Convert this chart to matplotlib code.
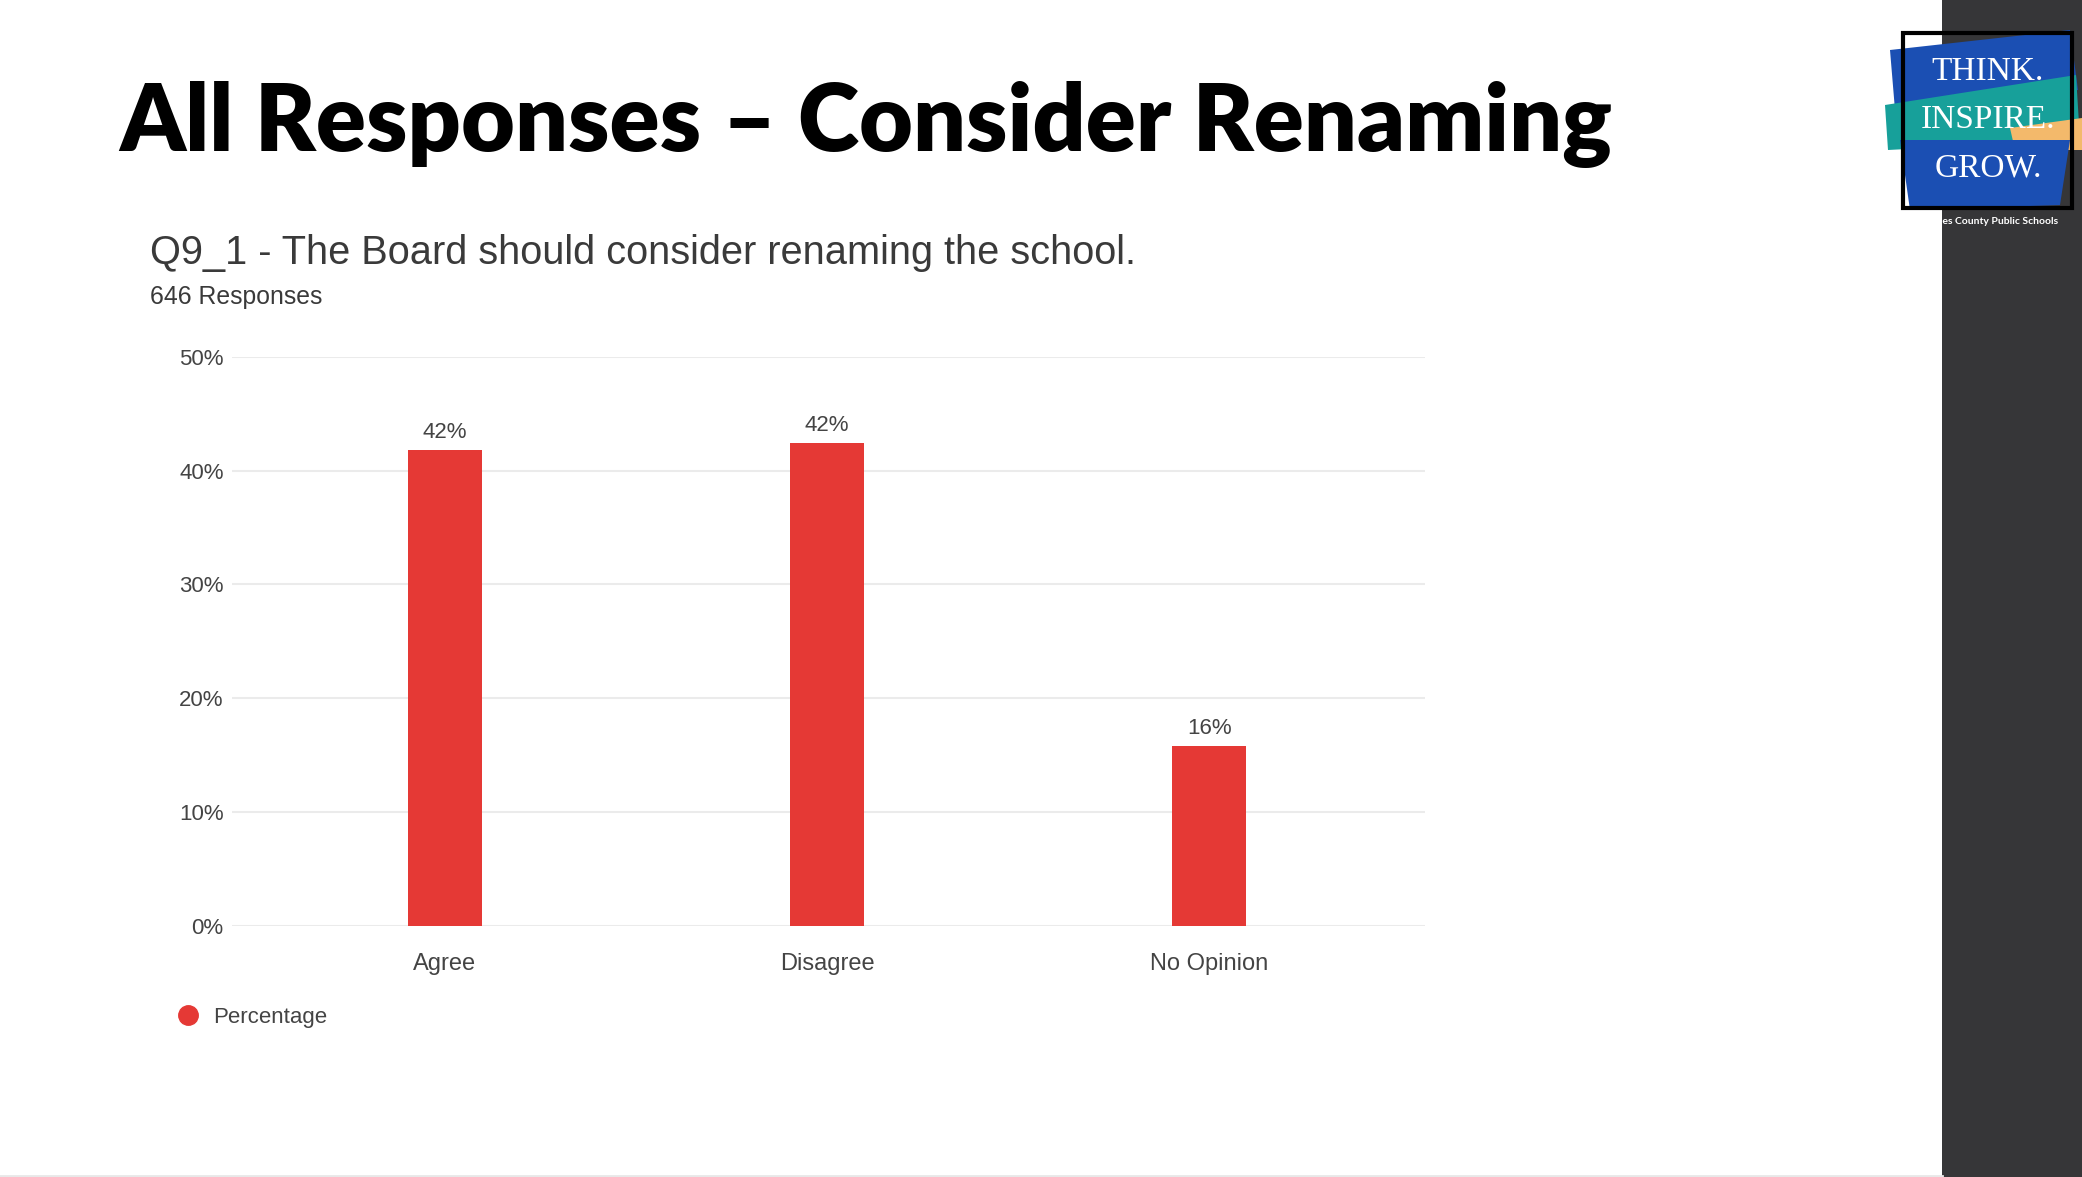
import matplotlib.pyplot as plt
from matplotlib.patches import Rectangle, Polygon
from matplotlib.lines import Line2D

# Datos de la encuesta
categorias = ['Agree', 'Disagree', 'No Opinion']
porcentajes = [41.8, 42.4, 15.8]
etiquetas = ['42%', '42%', '16%']
ticks_y = [0, 10, 20, 30, 40, 50]

titulo = 'All Responses – Consider Renaming'
pregunta = 'Q9_1 - The Board should consider renaming the school.'
respuestas = '646 Responses'

rojo = '#e53935'
gris_texto = '#444444'

fig = plt.figure(figsize=(20.82, 11.77), dpi=100)
fig.patch.set_facecolor('white')

# Panel oscuro a la derecha
fig.add_artist(Rectangle((1942 / 2082, 0), 1 - 1942 / 2082, 1, transform=fig.transFigure,
                         facecolor='#363638', edgecolor='none', zorder=0))
fig.add_artist(Line2D([0, 1942 / 2082], [0.001, 0.001], transform=fig.transFigure,
                      color='#e8e8e8', lw=2))

# Logo (aproximado)
def px(x, y):
    return (x / 2082, 1 - y / 1177)

fig.add_artist(Polygon([px(1890, 50), px(2070, 30), px(2078, 90), px(1895, 110)],
                       closed=True, transform=fig.transFigure, facecolor='#1b4fb3', edgecolor='none', zorder=2))
fig.add_artist(Polygon([px(1885, 105), px(2076, 75), px(2080, 140), px(1888, 150)],
                       closed=True, transform=fig.transFigure, facecolor='#17a09a', edgecolor='none', zorder=3))
fig.add_artist(Polygon([px(2010, 128), px(2082, 118), px(2082, 150), px(2015, 150)],
                       closed=True, transform=fig.transFigure, facecolor='#f3b96b', edgecolor='none', zorder=3))
fig.add_artist(Polygon([px(1900, 140), px(2070, 140), px(2060, 205), px(1910, 210)],
                       closed=True, transform=fig.transFigure, facecolor='#1b4fb3', edgecolor='none', zorder=4))
fig.add_artist(Rectangle(px(1903, 208), (2072 - 1903) / 2082, (208 - 33) / 1177, transform=fig.transFigure,
                         facecolor='none', edgecolor='black', lw=3, zorder=5))
for texto, y in [('THINK.', 72), ('INSPIRE.', 120), ('GROW.', 168)]:
    fig.text(*px(1988, y), texto, ha='center', va='center', color='white', fontsize=24,
             family='Liberation Serif', zorder=6)
fig.text(*px(1988, 221), 'Charles County Public Schools', ha='center', va='center', color='white',
         fontsize=7.5, family='Lato', weight='bold', zorder=6)

# Titulos
fig.text(119 / 2082, 1 - 124 / 1177, titulo, ha='left', va='center', fontsize=67,
         family='Lato', weight='heavy', color='black')
fig.text(150 / 2082, 1 - 253 / 1177, pregunta, ha='left', va='center', fontsize=28.6,
         family='Liberation Sans', color='#3a3a3a')
fig.text(150 / 2082, 1 - 297 / 1177, respuestas, ha='left', va='center', fontsize=17.8,
         family='Liberation Sans', color='#3a3a3a')

# Grafico de barras
ax = fig.add_axes([232 / 2082, 1 - 925.5 / 1177, (1425 - 232) / 2082, (925.5 - 357) / 1177])
x = range(len(categorias))
barras = ax.bar(x, porcentajes, width=0.194, color=rojo, zorder=3)
for b, et in zip(barras, etiquetas):
    ax.annotate(et, (b.get_x() + b.get_width() / 2, b.get_height()), xytext=(0, 5),
                textcoords='offset points', ha='center', va='bottom', fontsize=16,
                family='Liberation Sans', color=gris_texto)

ax.set_xlim(-0.557, 2.565)
ax.set_ylim(0, 50)
ax.set_yticks(ticks_y)
ax.set_yticklabels([f'{t}%' for t in ticks_y], family='Liberation Sans', fontsize=16, color=gris_texto)
ax.set_xticks(list(x))
ax.set_xticklabels(categorias, family='Liberation Sans', fontsize=17, color=gris_texto)
ax.tick_params(axis='y', length=0, pad=6)
ax.tick_params(axis='x', length=0, pad=20)
ax.grid(axis='y', color='#ebebeb', lw=1.5, zorder=0)
for s in ax.spines.values():
    s.set_visible(False)

# Leyenda
mano = Line2D([], [], marker='o', ls='', color=rojo, markersize=14)
fig.legend([mano], ['Percentage'], loc='center left', bbox_to_anchor=(146 / 2082, 1 - 1017 / 1177),
           frameon=False, handletextpad=0.1, prop={'family': 'Liberation Sans', 'size': 16},
           labelcolor=gris_texto)

plt.savefig('out.png', dpi=100)
